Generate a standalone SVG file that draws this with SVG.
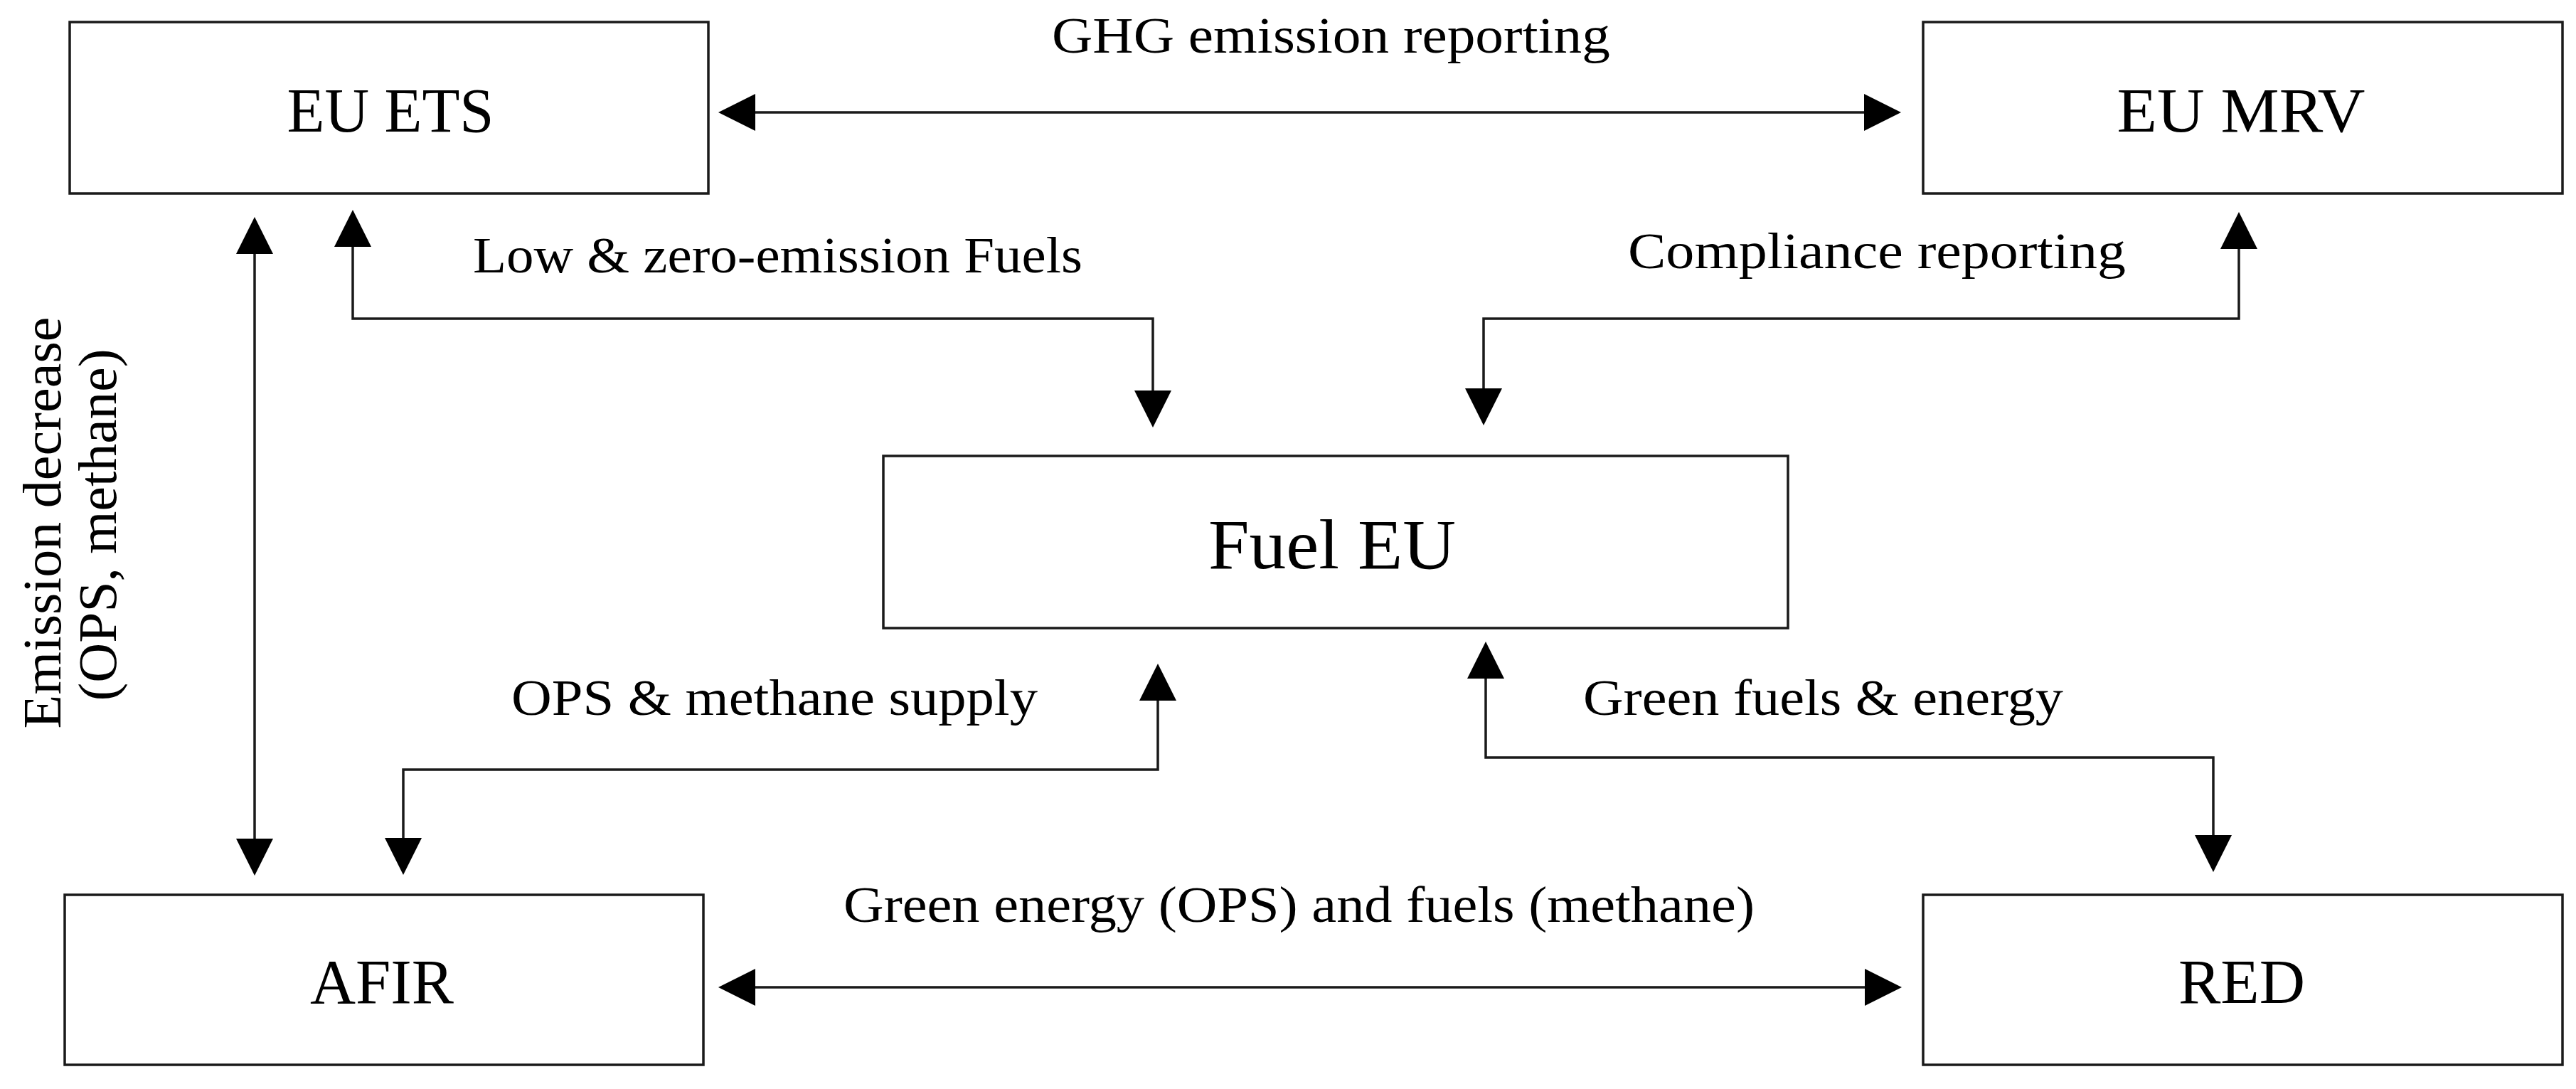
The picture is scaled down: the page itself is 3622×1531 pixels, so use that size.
<svg xmlns="http://www.w3.org/2000/svg" width="3622" height="1531" viewBox="0 0 3622 1531">
  <style>
    .box { fill: #ffffff; stroke: #1a1a1a; stroke-width: 3.5; }
    .conn { fill: none; stroke: #1a1a1a; stroke-width: 3.5; marker-start: url(#ah); marker-end: url(#ah); }
    .node { font-family: "Liberation Serif", "Times New Roman", serif; font-size: 88px; fill: #000; text-anchor: middle; }
    .lbl { font-family: "Liberation Serif", "Times New Roman", serif; font-size: 72px; fill: #000; }
  </style>
  <defs>
    <marker id="ah" viewBox="0 0 52 52" refX="46" refY="26" markerWidth="52" markerHeight="52" markerUnits="userSpaceOnUse" orient="auto-start-reverse">
      <path d="M0,0 L52,26 L0,52 z" fill="#000"/>
    </marker>
  </defs>
  <rect width="3622" height="1531" fill="#ffffff"/>

  <g id="connectors">
    <path class="conn" d="M1016,158 H2667"/>
    <path class="conn" d="M358,311 V1225"/>
    <path class="conn" d="M496,301 V448 H1621 V595"/>
    <path class="conn" d="M2086,592 V448 H3148 V304"/>
    <path class="conn" d="M1628,939 V1082 H567 V1224"/>
    <path class="conn" d="M2089,908 V1065 H3112 V1220"/>
    <path class="conn" d="M1016,1388 H2668"/>
  </g>

  <g id="labels">
    <text class="lbl" x="1479" y="74" textLength="785" lengthAdjust="spacingAndGlyphs">GHG emission reporting</text>
    <text class="lbl" x="665" y="383" textLength="857" lengthAdjust="spacingAndGlyphs">Low &amp; zero-emission Fuels</text>
    <text class="lbl" x="2289" y="377" textLength="700" lengthAdjust="spacingAndGlyphs">Compliance reporting</text>
    <text class="lbl" x="719" y="1005" textLength="740" lengthAdjust="spacingAndGlyphs">OPS &amp; methane supply</text>
    <text class="lbl" x="2226" y="1005" textLength="675" lengthAdjust="spacingAndGlyphs">Green fuels &amp; energy</text>
    <text class="lbl" x="1186" y="1296" textLength="1281" lengthAdjust="spacingAndGlyphs">Green energy (OPS) and fuels (methane)</text>
    <text class="lbl" transform="translate(85,735) rotate(-90)" text-anchor="middle" style="font-size:76px" textLength="579" lengthAdjust="spacingAndGlyphs">Emission decrease</text>
    <text class="lbl" transform="translate(163,738) rotate(-90)" text-anchor="middle" style="font-size:76px" textLength="495" lengthAdjust="spacingAndGlyphs">(OPS, methane)</text>
  </g>

  <g id="node-eu-ets">
    <rect class="box" x="98" y="31" width="898" height="241"/>
    <text class="node" x="549" y="185" textLength="291" lengthAdjust="spacingAndGlyphs">EU ETS</text>
  </g>
  <g id="node-eu-mrv">
    <rect class="box" x="2704" y="31" width="899" height="241"/>
    <text class="node" x="3151" y="185" textLength="349" lengthAdjust="spacingAndGlyphs">EU MRV</text>
  </g>
  <g id="node-fuel-eu">
    <rect class="box" x="1242" y="641" width="1272" height="242"/>
    <text class="node" x="1873" y="799" style="font-size:100px" textLength="348" lengthAdjust="spacingAndGlyphs">Fuel EU</text>
  </g>
  <g id="node-afir">
    <rect class="box" x="91" y="1258" width="898" height="239"/>
    <text class="node" x="537" y="1410" textLength="202" lengthAdjust="spacingAndGlyphs">AFIR</text>
  </g>
  <g id="node-red">
    <rect class="box" x="2704" y="1258" width="899" height="239"/>
    <text class="node" x="3152" y="1410" textLength="178" lengthAdjust="spacingAndGlyphs">RED</text>
  </g>
</svg>
